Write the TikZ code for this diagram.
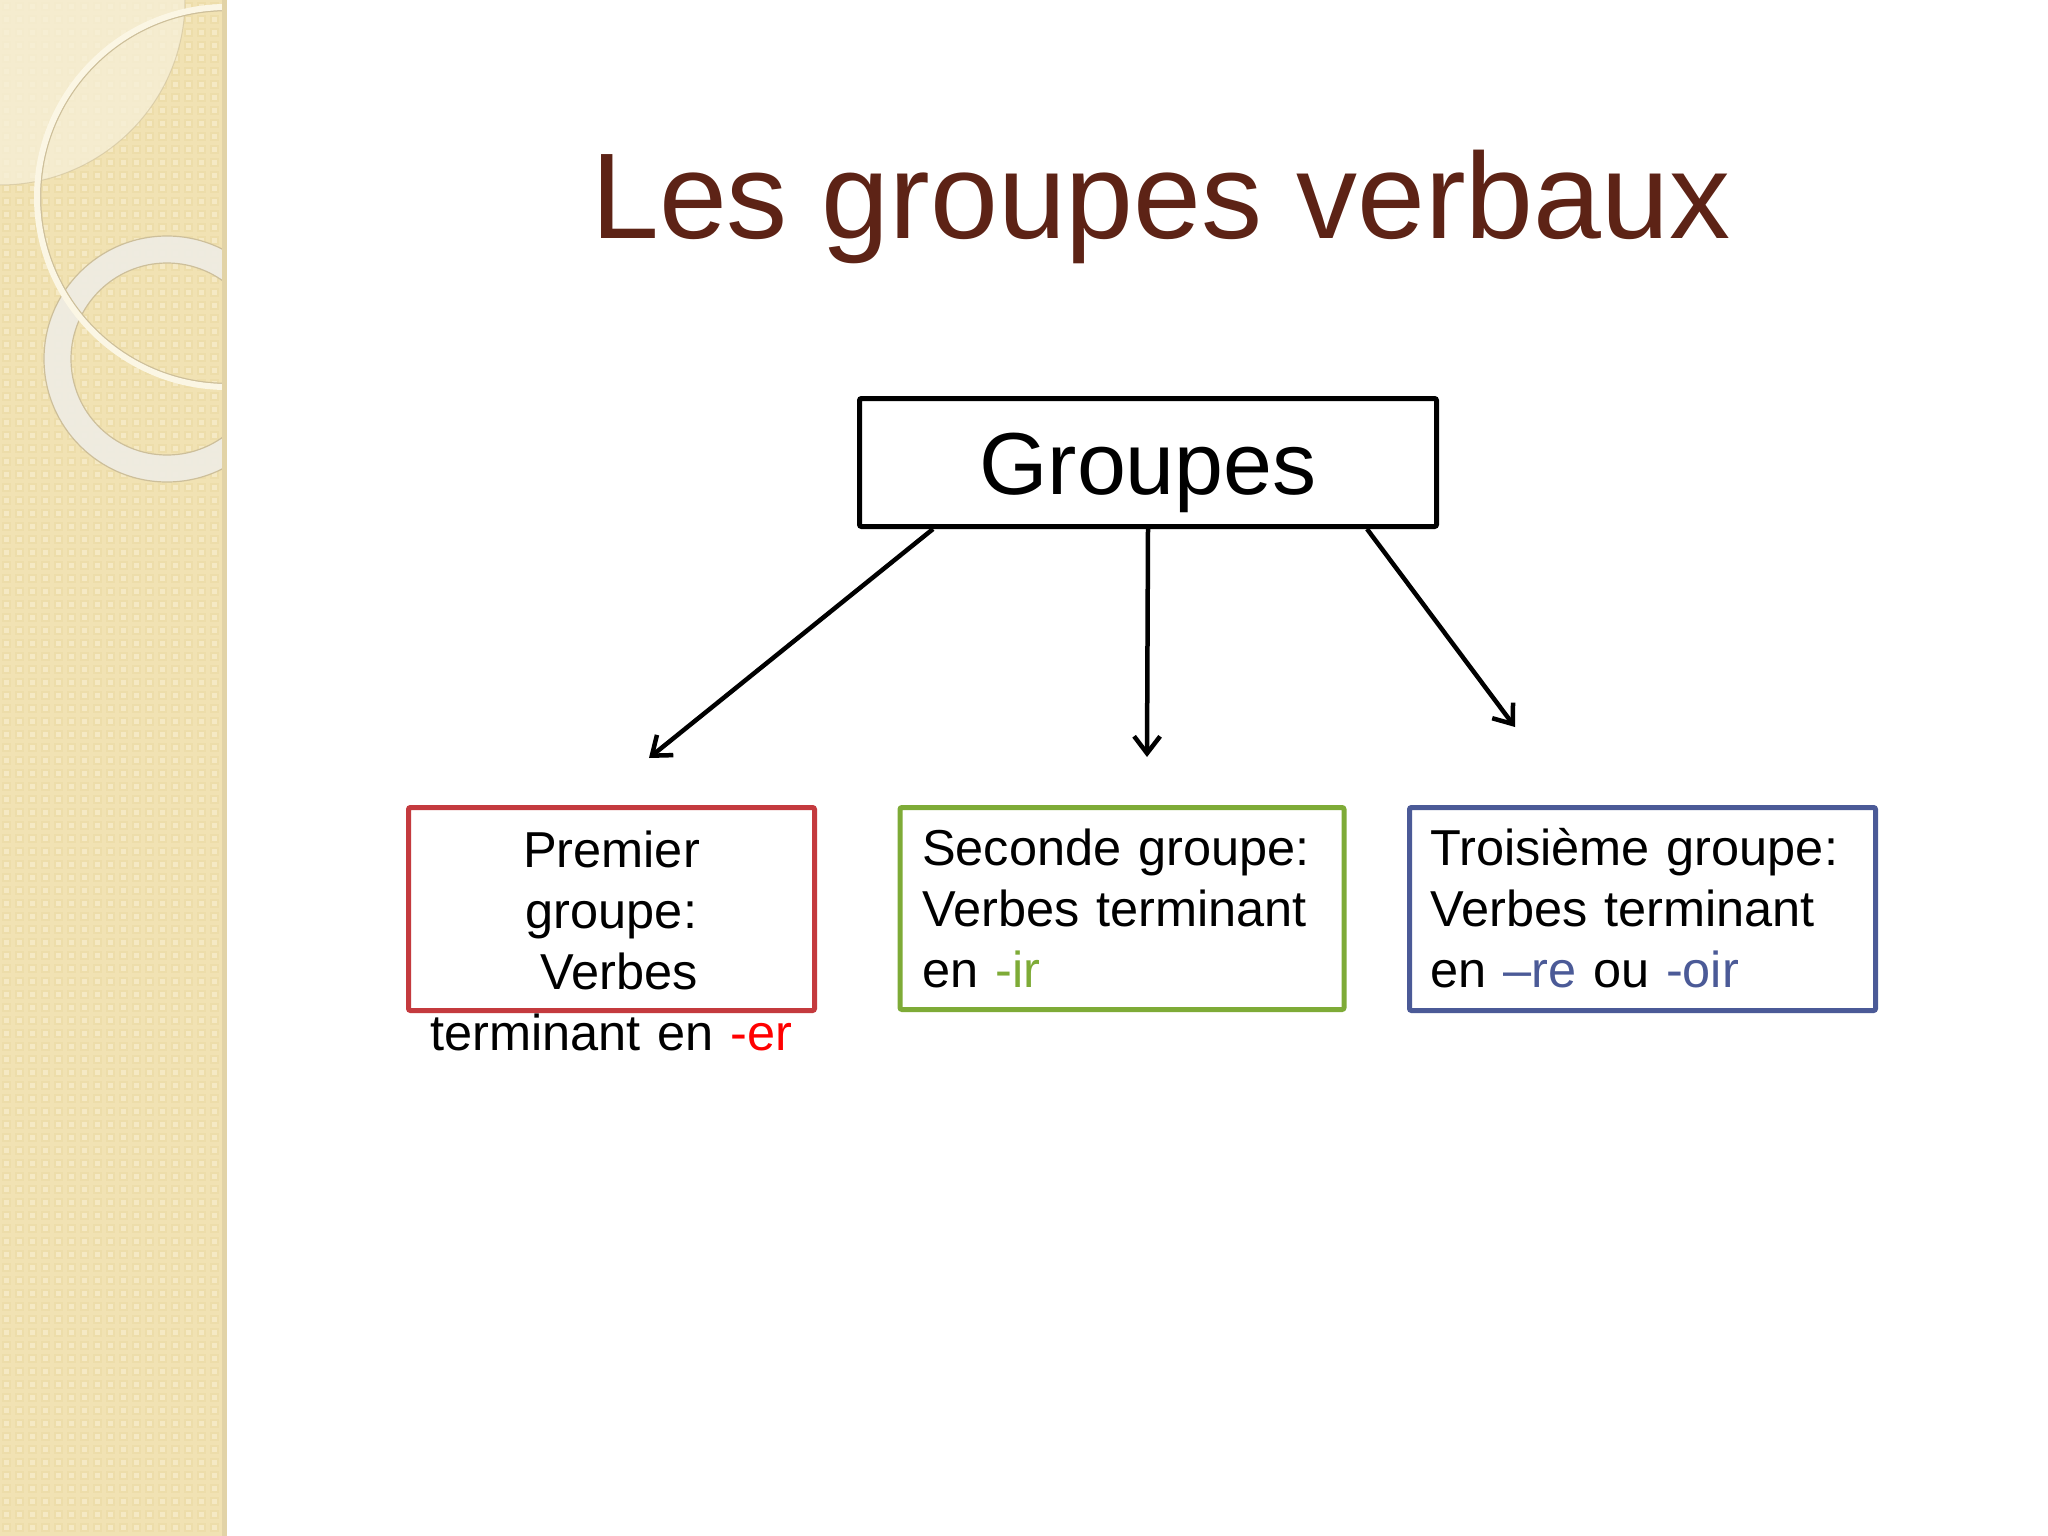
\documentclass[tikz,border=0pt]{standalone}
\usepackage{fontspec}
\setmainfont{Liberation Sans}
\usetikzlibrary{arrows.meta,calc}
\definecolor{titlebrown}{HTML}{5D2316}
\definecolor{sidebg}{HTML}{F1E2B3}
\definecolor{sidecell}{HTML}{F5E9C4}
\definecolor{sideline}{HTML}{EDDDAA}
\definecolor{sideedge}{HTML}{E2D3A6}
\definecolor{lenscol}{HTML}{F7F0D9}
\definecolor{ringcol}{HTML}{EFECE2}
\definecolor{ringedge}{HTML}{CDBF9A}
\definecolor{arccol}{HTML}{FBF6E4}
\definecolor{boxred}{HTML}{C43A3E}
\definecolor{boxgreen}{HTML}{7EAB37}
\definecolor{boxblue}{HTML}{4B5A97}
\definecolor{txtred}{HTML}{FF0000}
\definecolor{txtgreen}{HTML}{7EAB37}
\definecolor{txtblue}{HTML}{4B5A97}
\newcommand{\titlefont}{\fontsize{122}{140}\selectfont}
\newcommand{\grpfont}{\fontsize{88}{100}\selectfont}
\newcommand{\boxfont}{\fontsize{50.5}{61}\selectfont}
\tikzset{
  framebox/.style={draw, line width=5pt, rounded corners=2pt, inner sep=0pt, fill=white},
  boxtext/.style={inner sep=0pt, font=\boxfont, text=black},
  link/.style={draw=black, line width=4.5pt, -{Straight Barb[length=17pt,width=26pt]}},
}
\begin{document}
\begin{tikzpicture}[x=1pt,y=-1pt]
\useasboundingbox (0,0) rectangle (2048,1536);
\fill[white] (0,0) rectangle (2048,1536);
% ---------- sidebar ----------
\fill[sidebg] (0,0) rectangle (227,1536);
\begin{scope}
  \clip (0,0) rectangle (223,1536);
  \path[draw=sideline, fill=sidecell, line width=1.2pt]
    \foreach \i in {0,...,17} { \foreach \j in {0,...,118} {
      (\i*13+3,\j*13+3) rectangle ++(7,7) } };
  \fill[lenscol, opacity=0.75] (0,0) circle[radius=185pt];
  \draw[ringedge, line width=1pt, opacity=0.6] (0,0) circle[radius=185pt];
  \fill[ringcol, even odd rule, opacity=0.95] (167,359) circle[radius=123pt] (167,359) circle[radius=96pt];
  \draw[ringedge, line width=1.2pt] (167,359) circle[radius=123pt];
  \draw[ringedge, line width=1.2pt] (167,359) circle[radius=96pt];
  \draw[ringedge, line width=1.5pt] (227,197) circle[radius=186.5pt];
  \draw[arccol, line width=6pt] (227,197) circle[radius=190pt];
\end{scope}
\fill[sideedge] (222,0) rectangle (227,1536);
% ---------- title ----------
\node[font=\titlefont, text=titlebrown, anchor=base] (title) at (1161,238) {Les groupes verbaux};
% ---------- root ----------
\node[framebox, draw=black, minimum width=577pt, minimum height=128pt,
      font=\grpfont, text height=70pt, text depth=7pt] (grp) at (1148,462.5) {Groupes};
% ---------- children ----------
\node[framebox, draw=boxred, minimum width=406pt, minimum height=203pt] (b1) at (611.5,909) {};
\node[framebox, draw=boxgreen, minimum width=444pt, minimum height=202pt] (b2) at (1122,908.5) {};
\node[framebox, draw=boxblue, minimum width=466pt, minimum height=203pt] (b3) at (1642.5,909) {};
\node[boxtext, anchor=base, text width=420pt, align=center] (t1) at (611.5,867)
  {Premier\\groupe:\\\hspace*{0.3em}Verbes\\terminant en \textcolor{txtred}{-er}};
\node[boxtext, anchor=base west, text width=420pt, align=left] (t2) at (922,865)
  {Seconde groupe:\\Verbes terminant\\en \textcolor{txtgreen}{-ir}};
\node[boxtext, anchor=base west, text width=440pt, align=left] (t3) at (1430,865)
  {Troisième groupe:\\Verbes terminant\\en \textcolor{txtblue}{–re} ou \textcolor{txtblue}{-oir}};
% ---------- connectors ----------
\coordinate (s1) at ([xshift=76pt]grp.south west);
\coordinate (s2) at (grp.south);
\coordinate (s3) at ([xshift=-72pt]grp.south east);
\coordinate (e1) at (649,758);
\coordinate (e2) at (1147,757);
\coordinate (e3) at (1515,727);
\draw[link] (s1) -- (e1);
\draw[link] (s2) -- (e2);
\draw[link] (s3) -- (e3);
\end{tikzpicture}
\end{document}
